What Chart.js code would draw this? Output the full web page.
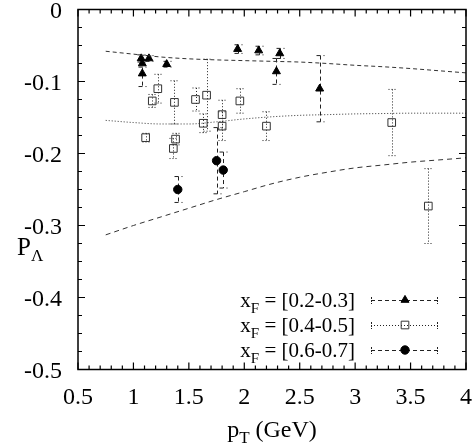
<!DOCTYPE html>
<html>
<head>
<meta charset="utf-8">
<script src="https://cdn.jsdelivr.net/npm/chart.js@4.4.1/dist/chart.umd.min.js"></script>
<style>
  html, body { margin: 0; padding: 0; background: #fff; }
  #wrap { width: 474px; height: 445px; }
</style>
</head>
<body>
<div id="wrap"><canvas id="chart" width="474" height="445"></canvas></div>
<script>
/* ─── Data ──────────────────────────────────────────────────────────────────── */

const X_TICKS       = [0.5, 1, 1.5, 2, 2.5, 3, 3.5, 4];
const X_TICK_LABELS = ['0.5', '1', '1.5', '2', '2.5', '3', '3.5', '4'];
const Y_TICKS       = [0, -0.1, -0.2, -0.3, -0.4, -0.5];
const Y_TICK_LABELS = ['0', '-0.1', '-0.2', '-0.3', '-0.4', '-0.5'];

// x_F = [0.2-0.3]  (filled triangles)
const triX   = [1.07, 1.14, 1.08, 1.08, 1.30, 1.94, 2.13, 2.32, 2.29, 2.68];
const triY   = [-0.068, -0.068, -0.075, -0.089, -0.076, -0.055, -0.057, -0.061, -0.086, -0.110];
const triErr = [0.005, 0.004, 0.005, 0.018, 0.004, 0.006, 0.006, 0.007, 0.018, 0.046];

// x_F = [0.4-0.5]  (open squares)
const sqX   = [1.11, 1.17, 1.22, 1.37, 1.38, 1.36, 1.56, 1.63, 1.66, 1.80, 1.80, 1.96, 2.20, 3.33, 3.66];
const sqY   = [-0.178, -0.127, -0.110, -0.129, -0.180, -0.193, -0.125, -0.158, -0.119, -0.146, -0.162, -0.127, -0.162, -0.157, -0.273];
const sqErr = [0.006, 0.009, 0.020, 0.030, 0.008, 0.014, 0.016, 0.013, 0.050, 0.020, 0.020, 0.017, 0.020, 0.046, 0.052];

// x_F = [0.6-0.7]  (filled circles)
const dotX   = [1.40, 1.75, 1.81];
const dotY   = [-0.250, -0.210, -0.223];
const dotErr = [0.018, 0.046, 0.025];

// model curves
const curveX     = [0.75, 1.0, 1.25, 1.5, 1.75, 2.0, 2.25, 2.5, 2.75, 3.0, 3.25, 3.5, 3.75, 4.0];
const curveUpper = [-0.058, -0.062, -0.066, -0.0685, -0.070, -0.071, -0.072, -0.073, -0.075, -0.0775, -0.0795, -0.082, -0.085, -0.088];
const curveMid   = [-0.154, -0.157, -0.159, -0.159, -0.156, -0.152, -0.149, -0.147, -0.146, -0.145, -0.1445, -0.144, -0.144, -0.144];
const curveLower = [-0.313, -0.300, -0.288, -0.276, -0.264, -0.253, -0.242, -0.233, -0.226, -0.220, -0.216, -0.212, -0.209, -0.206];

const LEGEND = [
  { sub: 'F', text: ' = [0.2-0.3]' },
  { sub: 'F', text: ' = [0.4-0.5]' },
  { sub: 'F', text: ' = [0.6-0.7]' },
];

/* ─── Styles ────────────────────────────────────────────────────────────────── */

const FONT   = '"Liberation Serif", "DejaVu Serif", serif';
const INK    = '#000';
const DASHED = [4, 3];
const DOTTED = [1, 2];

const pts = (xs, ys) => xs.map((x, i) => ({ x, y: ys[i] }));

/* ─── Plugins ───────────────────────────────────────────────────────────────── */

// vertical error bars, drawn under the markers
const errorBars = {
  id: 'errorBars',
  beforeDatasetsDraw(chart) {
    const { ctx, scales: { x, y } } = chart;
    chart.data.datasets.forEach(ds => {
      if (!ds.errors) return;
      ctx.save();
      ctx.strokeStyle = '#222';
      ctx.lineWidth = 1;
      ctx.setLineDash(ds.errDash);
      ds.data.forEach((p, j) => {
        const px = Math.round(x.getPixelForValue(p.x)) + 0.5;
        const top = y.getPixelForValue(p.y + ds.errors[j]);
        const bot = y.getPixelForValue(p.y - ds.errors[j]);
        ctx.beginPath();
        ctx.moveTo(px, top); ctx.lineTo(px, bot);
        ctx.moveTo(px - 4, top); ctx.lineTo(px + 4, top);
        ctx.moveTo(px - 4, bot); ctx.lineTo(px + 4, bot);
        ctx.stroke();
      });
      ctx.restore();
    });
  },
};

// frame, inward ticks, tick labels, axis titles and legend
const frame = {
  id: 'frame',
  afterDraw(chart) {
    const { ctx, chartArea: a, scales: { x, y } } = chart;
    ctx.save();

    ctx.strokeStyle = INK;
    ctx.lineWidth = 1.5;
    ctx.strokeRect(a.left, a.top, a.right - a.left, a.bottom - a.top);

    ctx.lineWidth = 1.2;
    ctx.beginPath();
    for (let k = 0; k <= 35; k++) {
      const px = x.getPixelForValue(0.5 + k * 0.1);
      const len = k % 5 === 0 ? 7 : 4;
      ctx.moveTo(px, a.bottom); ctx.lineTo(px, a.bottom - len);
      ctx.moveTo(px, a.top);    ctx.lineTo(px, a.top + len);
    }
    for (let k = 0; k <= 20; k++) {
      const py = y.getPixelForValue(-k * 0.025);
      const len = k % 4 === 0 ? 7 : 4;
      ctx.moveTo(a.left, py);  ctx.lineTo(a.left + len, py);
      ctx.moveTo(a.right, py); ctx.lineTo(a.right - len, py);
    }
    ctx.stroke();

    ctx.fillStyle = INK;
    ctx.font = `24px ${FONT}`;
    ctx.textBaseline = 'alphabetic';
    ctx.textAlign = 'center';
    X_TICKS.forEach((v, i) => ctx.fillText(X_TICK_LABELS[i], x.getPixelForValue(v), a.bottom + 34));
    ctx.textAlign = 'right';
    Y_TICKS.forEach((v, i) => ctx.fillText(Y_TICK_LABELS[i], a.left - 16, y.getPixelForValue(v) + 8));

    // axis titles
    const tw = subWidth(ctx, 'p', 'T', ' (GeV)', 24, 17);
    drawSub(ctx, 272 - tw / 2, 437, 'p', 'T', ' (GeV)', 24, 17);
    drawSub(ctx, 17, 255, 'P', 'Λ', '', 25, 17);

    // legend
    const sets = chart.data.datasets.filter(ds => ds.errors);
    LEGEND.forEach((item, i) => {
      const ry = 300 + i * 25;
      const w = subWidth(ctx, 'x', item.sub, item.text, 21, 15);
      drawSub(ctx, 355 - w, ry + 7, 'x', item.sub, item.text, 21, 15);

      const ds = sets[i];
      ctx.save();
      ctx.strokeStyle = '#222';
      ctx.lineWidth = 1;
      ctx.setLineDash(ds.errDash);
      ctx.beginPath();
      ctx.moveTo(371, ry + 0.5); ctx.lineTo(438, ry + 0.5);
      ctx.stroke();
      ctx.setLineDash([2, 1]);
      ctx.beginPath();
      ctx.moveTo(371.5, ry - 3); ctx.lineTo(371.5, ry + 4);
      ctx.moveTo(437.5, ry - 3); ctx.lineTo(437.5, ry + 4);
      ctx.stroke();
      ctx.setLineDash([]);
      ctx.fillStyle = ds.backgroundColor;
      ctx.strokeStyle = ds.borderColor;
      ctx.lineWidth = ds.borderWidth;
      Chart.helpers.drawPoint(ctx, {
        pointStyle: ds.pointStyle,
        radius: ds.pointRadius,
        rotation: 0,
        borderWidth: ds.borderWidth,
      }, 405, ry);
      ctx.restore();
    });

    ctx.restore();
  },
};

function subWidth(ctx, base, sub, rest, size, subSize) {
  ctx.font = `${size}px ${FONT}`;
  let w = ctx.measureText(base).width + ctx.measureText(rest).width;
  ctx.font = `${subSize}px ${FONT}`;
  return w + ctx.measureText(sub).width;
}

function drawSub(ctx, x0, base, main, sub, rest, size, subSize) {
  ctx.textAlign = 'left';
  ctx.fillStyle = INK;
  ctx.font = `${size}px ${FONT}`;
  ctx.fillText(main, x0, base);
  let cx = x0 + ctx.measureText(main).width;
  ctx.font = `${subSize}px ${FONT}`;
  ctx.fillText(sub, cx, base + 6);
  cx += ctx.measureText(sub).width;
  ctx.font = `${size}px ${FONT}`;
  ctx.fillText(rest, cx, base);
}

/* ─── Chart ─────────────────────────────────────────────────────────────────── */

const curve = (ys, dash) => ({
  data: pts(curveX, ys),
  showLine: true,
  borderColor: '#333',
  borderWidth: 1,
  borderDash: dash,
  pointRadius: 0,
  cubicInterpolationMode: 'monotone',
});

new Chart(document.getElementById('chart'), {
  type: 'scatter',
  data: {
    datasets: [
      curve(curveUpper, DASHED),
      curve(curveMid, DOTTED),
      curve(curveLower, [5, 4]),
      {
        data: pts(triX, triY), errors: triErr, errDash: DASHED,
        pointStyle: 'triangle', pointRadius: 4.6,
        backgroundColor: INK, borderColor: INK, borderWidth: 1,
      },
      {
        data: pts(sqX, sqY), errors: sqErr, errDash: DOTTED,
        pointStyle: 'rect', pointRadius: 5.4,
        backgroundColor: 'rgba(0,0,0,0)', borderColor: '#333', borderWidth: 1,
      },
      {
        data: pts(dotX, dotY), errors: dotErr, errDash: DASHED,
        pointStyle: 'circle', pointRadius: 4.2,
        backgroundColor: INK, borderColor: INK, borderWidth: 1,
      },
    ],
  },
  options: {
    responsive: false,
    animation: false,
    layout: { padding: { top: 9.5, right: 8, left: 0, bottom: 0 } },
    plugins: { legend: { display: false }, tooltip: { enabled: false } },
    scales: {
      x: {
        type: 'linear', min: 0.5, max: 4,
        ticks: { display: false },
        grid: { display: false },
        border: { display: false },
        afterFit: s => { s.height = 75.5; },
      },
      y: {
        type: 'linear', min: -0.5, max: 0,
        ticks: { display: false },
        grid: { display: false },
        border: { display: false },
        afterFit: s => { s.width = 78; },
      },
    },
  },
  plugins: [errorBars, frame],
});
</script>
</body>
</html>
